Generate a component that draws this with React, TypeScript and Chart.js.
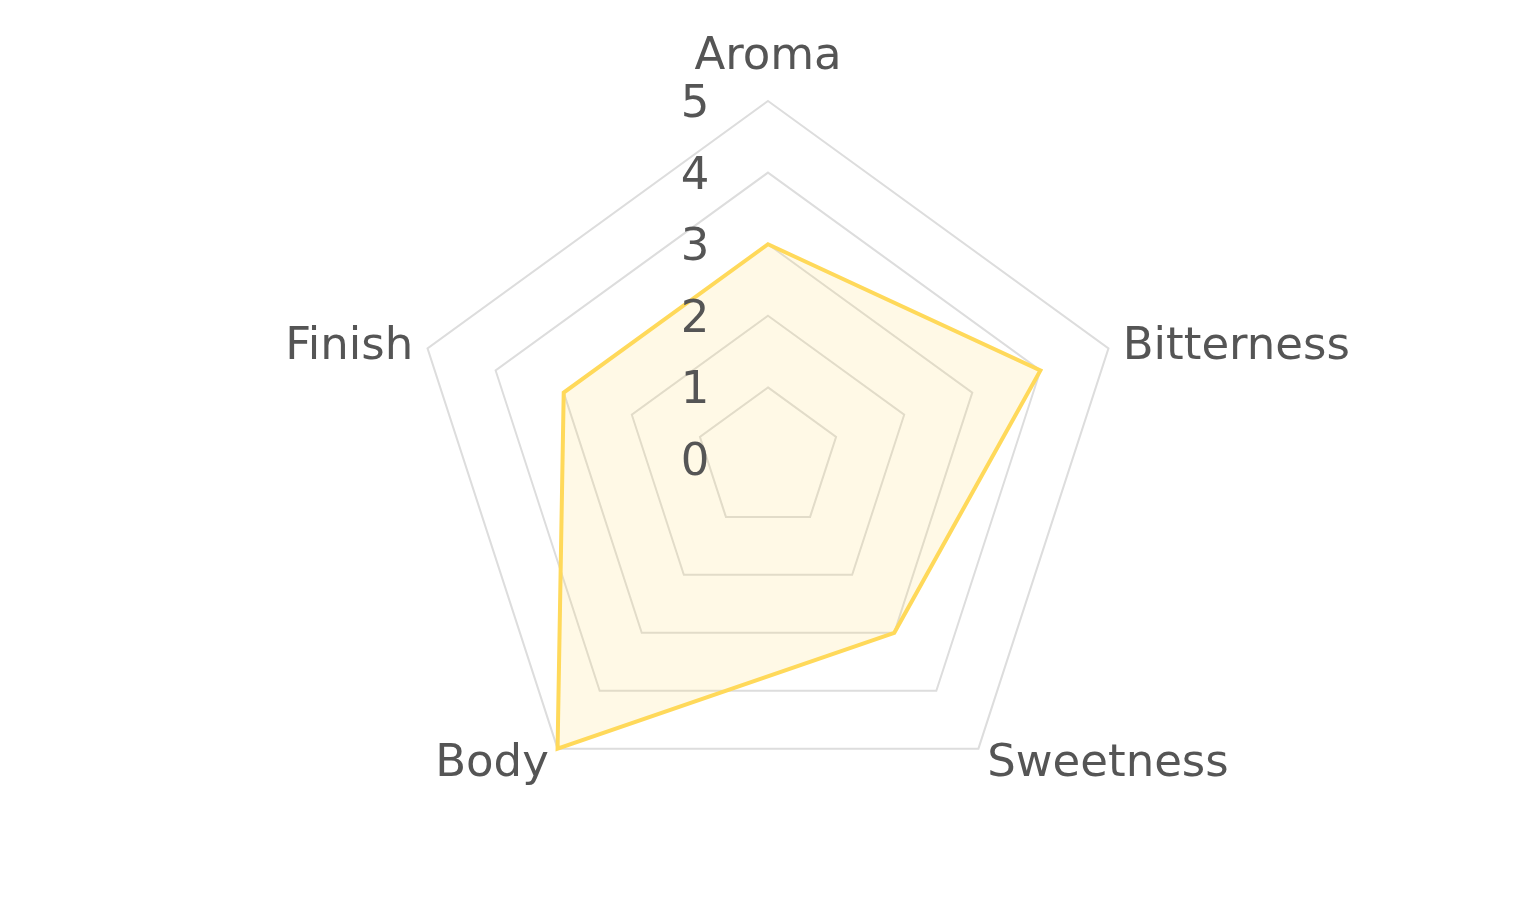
import React, { useRef, useEffect } from 'react';
import Chart from 'chart.js/auto';

// categories and values
const labels = ['Aroma', 'Bitterness', 'Sweetness', 'Body', 'Finish'];
const scores = [3, 4, 3, 5, 3];
const tickValues = [0, 1, 2, 3, 4, 5];

const FONT = '"DejaVu Sans", Verdana, sans-serif';
const TEXT = '#555555';
const FONT_SIZE = 45;

// axis names and tick numbers placed like the original (name gap 15px, ticks left of centre)
const labelPlugin = {
  id: 'radarText',
  afterDraw(chart: any) {
    const scale = chart.scales.r;
    const ctx = chart.ctx;
    ctx.save();
    ctx.font = `${FONT_SIZE}px ${FONT}`;
    ctx.fillStyle = TEXT;
    ctx.textBaseline = 'alphabetic';

    labels.forEach((name, i) => {
      const p = scale.getPointPosition(i, scale.drawingArea + 15);
      const dx = p.x - scale.xCenter;
      const dy = p.y - scale.yCenter;
      const len = Math.sqrt(dx * dx + dy * dy) || 1;
      const cos = dx / len;
      const sin = dy / len;
      let y = p.y + 15;
      if (Math.abs(cos) < 0.01) {
        ctx.textAlign = 'center';
        y = sin < 0 ? p.y - 17 : p.y + 33;
      } else {
        ctx.textAlign = cos > 0 ? 'left' : 'right';
      }
      ctx.fillText(name, p.x, y);
    });

    ctx.textAlign = 'center';
    tickValues.forEach((v) => {
      const y = scale.yCenter - scale.getDistanceFromCenterForValue(v);
      ctx.fillText(String(v), scale.xCenter - 73, y + 16);
    });
    ctx.restore();
  },
};

const App: React.FC = () => {
  const canvasRef = useRef<HTMLCanvasElement>(null);
  const chartRef = useRef<Chart | null>(null);

  useEffect(() => {
    if (!canvasRef.current) return;
    if (chartRef.current) chartRef.current.destroy();

    chartRef.current = new Chart(canvasRef.current, {
      type: 'radar',
      data: {
        labels,
        datasets: [{
          label: 'Score',
          data: scores,
          borderColor: '#FFD95A',
          backgroundColor: 'rgba(255, 215, 90, 0.15)',
          borderWidth: 4,
          pointRadius: 0,
          fill: true,
        }],
      },
      plugins: [labelPlugin],
      options: {
        animation: false,
        responsive: true,
        maintainAspectRatio: false,
        layout: { padding: { top: 93, bottom: 91 } },
        plugins: {
          legend: { display: false },
          tooltip: { enabled: false },
        },
        scales: {
          r: {
            min: 0,
            max: 5,
            beginAtZero: true,
            angleLines: { display: false },
            grid: { color: '#dddddd', lineWidth: 2 },
            ticks: { display: false, stepSize: 1 },
            pointLabels: { display: false },
          },
        },
      },
    });

    return () => {
      if (chartRef.current) {
        chartRef.current.destroy();
        chartRef.current = null;
      }
    };
  }, []);

  return (
    <div style={{ width: '100%', height: '900px', position: 'relative' }}>
      <canvas ref={canvasRef} />
    </div>
  );
};

export default App;
